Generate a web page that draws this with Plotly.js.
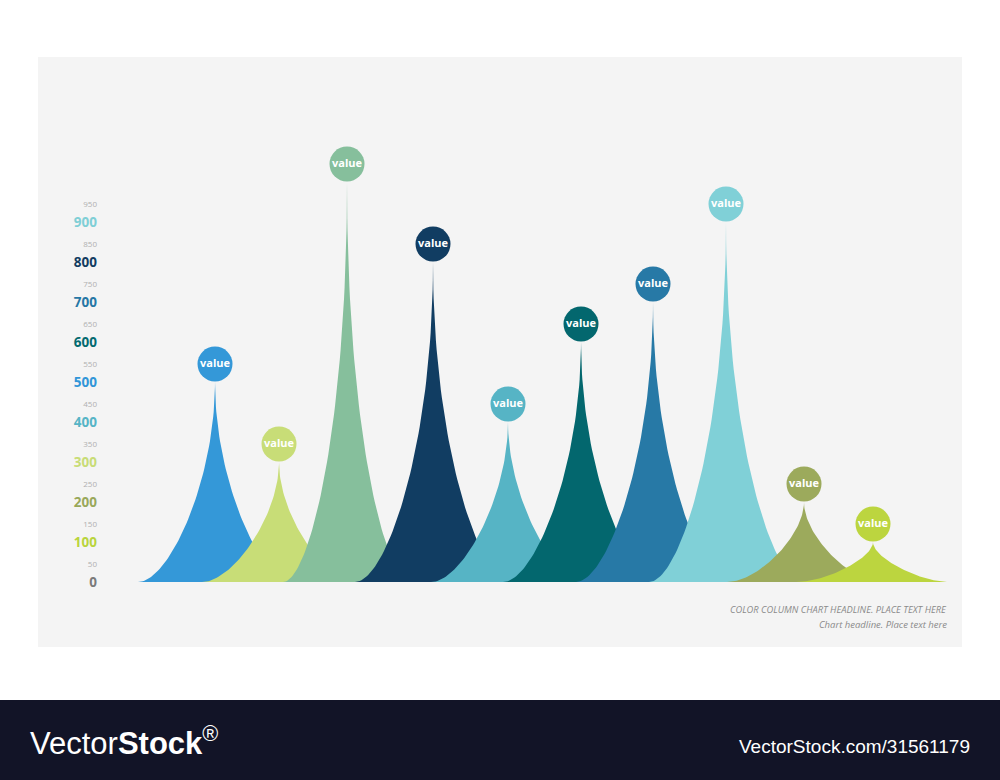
<!DOCTYPE html>
<html>
<head>
<meta charset="utf-8">
<script src="https://cdn.plot.ly/plotly-3.0.1.min.js"></script>
<style>html,body{margin:0;padding:0;background:#fff;}#chart{width:1000px;height:780px;}</style>
</head>
<body>
<div id="chart"></div>
<script>
// ---- data ----
var categories = ["A","B","C","D","E","F","G","H","I","J"];
var values = [500, 300, 1000, 800, 400, 600, 700, 900, 200, 100];
var pointLabels = ["value","value","value","value","value","value","value","value","value","value"];
var tickValues = [0,50,100,150,200,250,300,350,400,450,500,550,600,650,700,750,800,850,900,950];
var tickLabels = ["0","50","100","150","200","250","300","350","400","450","500","550","600","650","700","750","800","850","900","950"];

// ---- style / layout constants ----
var peakColors = ["#3498d8","#c8dd77","#86bf9c","#113d62","#56b4c5","#03676e","#2779a6","#80d0d7","#9caa5c","#bcd53f"];
var peakCenters = [215, 279, 347, 433, 508, 581, 653, 726, 804, 873];   // horizontal placement (px units of x axis)
var peakHalfWidths = [77, 77, 64, 78, 77, 78, 77, 77, 77, 77];
var majorColors = {0:"#7a7a7a",100:"#b9d43c",200:"#99a85a",300:"#c8dc76",400:"#56b4c6",500:"#3196d8",600:"#036a70",700:"#2677a5",800:"#123c61",900:"#7fcfd6"};
var minorColor = "#b0b0b0";
var bubbleOffset = 45;

function px2x(px){ return (px - 100) / 900; }
function px2y(py){ return 1 - py / 780; }

function cubic(p0,p1,p2,p3,t){
  var u = 1 - t;
  return u*u*u*p0 + 3*u*u*t*p1 + 3*u*t*t*p2 + t*t*t*p3;
}

var traces = [];
for (var i = 0; i < values.length; i++) {
  var v = values[i], c = peakCenters[i], w = peakHalfWidths[i];
  var k = Math.max(0.35, Math.min(0.62, 0.5 - 0.1 * (v - 500) / 400));
  var a = 0.4 * w;
  var xs = [], ys = [];
  var N = 60, t, j;
  for (j = 0; j <= N; j++) {
    t = j / N;
    xs.push(cubic(c - w, c - w + a, c, c, t));
    ys.push(cubic(0, 0, k * v, v, t));
  }
  for (j = N; j >= 0; j--) {
    t = j / N;
    xs.push(cubic(c + w, c + w - a, c, c, t));
    ys.push(cubic(0, 0, k * v, v, t));
  }
  traces.push({
    type: "scatter", mode: "lines", x: xs, y: ys,
    fill: "toself", fillcolor: peakColors[i],
    line: {width: 0, color: peakColors[i]},
    hoverinfo: "skip", showlegend: false, name: categories[i]
  });
}

traces.push({
  type: "scatter", mode: "markers+text",
  x: peakCenters, y: values.map(function(v){ return v + bubbleOffset; }),
  text: pointLabels, textposition: "middle center",
  textfont: {family: "Open Sans, Lato, sans-serif", size: 11, color: "#ffffff", weight: 700},
  marker: {size: 35, color: peakColors, line: {width: 0}},
  hoverinfo: "skip", showlegend: false, cliponaxis: false
});

var tickText = tickValues.map(function(v, idx){
  if (v % 100 === 0) {
    return '<span style="font-weight:bold;font-size:13.5px;fill:' + majorColors[v] + '">' + tickLabels[idx] + '</span>';
  }
  return '<span style="font-size:8px;fill:' + minorColor + '">' + tickLabels[idx] + '</span>';
});

var layout = {
  width: 1000, height: 780,
  margin: {l: 100, r: 0, t: 0, b: 0, pad: 0},
  paper_bgcolor: "#ffffff",
  plot_bgcolor: "rgba(0,0,0,0)",
  showlegend: false,
  xaxis: {range: [100, 1000], visible: false, fixedrange: true},
  yaxis: {
    range: [-495, 1455], showgrid: false, zeroline: false, showline: false,
    ticks: "", tickmode: "array", tickvals: tickValues, ticktext: tickText,
    tickfont: {family: "Open Sans, Lato, sans-serif", size: 13, color: "#888"},
    ticklabelstandoff: 2, fixedrange: true
  },
  shapes: [
    {type: "rect", xref: "paper", yref: "paper", x0: px2x(38), x1: px2x(962), y0: px2y(647), y1: px2y(57),
     fillcolor: "#f4f4f4", line: {width: 0}, layer: "below"},
    {type: "rect", xref: "paper", yref: "paper", x0: px2x(0), x1: px2x(1000), y0: px2y(780), y1: px2y(700),
     fillcolor: "#121427", line: {width: 0}, layer: "below"}
  ],
  annotations: [
    {xref: "paper", yref: "paper", x: px2x(949), y: px2y(609), xanchor: "right", yanchor: "middle", showarrow: false,
     text: "<i>COLOR COLUMN CHART HEADLINE. PLACE TEXT HERE</i>",
     font: {family: "Open Sans, Lato, sans-serif", size: 9.3, color: "#8a8a8a"}},
    {xref: "paper", yref: "paper", x: px2x(949), y: px2y(624), xanchor: "right", yanchor: "middle", showarrow: false,
     text: "<i>Chart headline. Place text here</i>",
     font: {family: "Open Sans, Lato, sans-serif", size: 9.5, color: "#8a8a8a"}},
    {xref: "paper", yref: "paper", x: px2x(28), y: px2y(741), xanchor: "left", yanchor: "middle", showarrow: false,
     text: "Vector<b>Stock</b><sup>®</sup>",
     font: {family: "Liberation Sans, Arial, sans-serif", size: 31, color: "#ffffff"}},
    {xref: "paper", yref: "paper", x: px2x(972), y: px2y(746), xanchor: "right", yanchor: "middle", showarrow: false,
     text: "VectorStock.com/31561179",
     font: {family: "Liberation Sans, Arial, sans-serif", size: 19, color: "#ffffff"}}
  ]
};

Plotly.newPlot("chart", traces, layout, {displayModeBar: false, staticPlot: true});
</script>
</body>
</html>
